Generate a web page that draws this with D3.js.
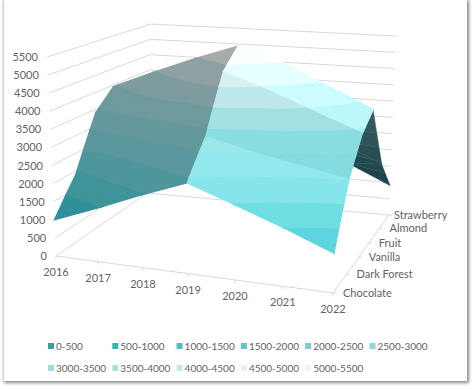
<!DOCTYPE html>
<html>
<head>
<meta charset="utf-8">
<script src="https://cdn.jsdelivr.net/npm/d3@7"></script>
<style>
html, body { margin: 0; padding: 0; background: #fff; }
#chart { position: absolute; left: 4px; top: 0; width: 463px; height: 381px; background: #fff; box-shadow: 1px 1px 3px 1px #8a8a8a; }
svg { position: absolute; left: 0; top: 0; }
text { font-family: Lato, sans-serif; font-size: 11px; fill: #636363; }
.legend text { font-size: 10px; }
</style>
</head>
<body>
<div id="chart"></div>
<script>
const years = ["2016", "2017", "2018", "2019", "2020", "2021", "2022"];
const flavours = ["Chocolate", "Dark Forest", "Vanilla", "Fruit", "Almond", "Strawberry"];
const valueTicks = [0, 500, 1000, 1500, 2000, 2500, 3000, 3500, 4000, 4500, 5000, 5500];

const chocolate = [1000, 1450, 1950, 2400, 1950, 1500, 1000];
const darkForest = [1900, 2400, 2850, 3300, 3000, 2750, 2500];
const vanilla = [3400, 3900, 4400, 4850, 4400, 3900, 3400];
const fruit = [3950, 4460, 4960, 5400, 5000, 4400, 3800];
const almond = [3000, 3300, 3600, 3900, 3200, 2500, 1900];
const strawberry = [2000, 2200, 2400, 2700, 2100, 1500, 900];
const rows = [chocolate, darkForest, vanilla, fruit, almond, strawberry];

const bandNames = ["0-500", "500-1000", "1000-1500", "1500-2000", "2000-2500", "2500-3000",
    "3000-3500", "3500-4000", "4000-4500", "4500-5000", "5000-5500"];
const legendColors = ["#3a9ea8", "#3aafb8", "#4dbcc6", "#66c2cc", "#7accd2", "#94d6d8",
    "#a0d8e0", "#b0e0e2", "#c6e8ea", "#dff2f2", "#ecf6f6"];

// band colours per lit side of the surface
const leftShades = ["#2a8a92", "#2a8a92", "#30909a", "#3f949a", "#4d969c", "#5a989e",
    "#64989c", "#6e9a9e", "#7e9c9e", "#8fa0a2", "#a6acac"];
const rightLow = ["#52d2dc", "#52d2dc", "#5dd5de", "#6fdfe4", "#85e5ea", "#92e8ec",
    "#9ae8ea", "#a4e4e6", "#bfeaec", "#d5eff0", "#e8f8f8"];
const rightMid = ["#52d2dc", "#52d2dc", "#5dd5de", "#6fdfe4", "#80dde2", "#84dbe0",
    "#8adde1", "#a2e1e3", "#bee8ea", "#d9f0f0", "#eef8f8"];
const rightTop = ["#a0f0f4", "#a0f0f4", "#a0f0f4", "#a0f0f4", "#a0f0f4", "#a0f0f4",
    "#a8f4f6", "#bcf8fa", "#ccfcff", "#e6ffff", "#fbffff"];
const backShades = ["#1c444c", "#1c444c", "#1c444c", "#22494f", "#294e54", "#2e5358",
    "#33575c", "#33575c", "#33575c", "#33575c", "#33575c"];

const width = 474, height = 389;
const svg = d3.select("#chart").append("svg")
    .attr("width", width).attr("height", height)
    .style("left", "-4px");

// box corners in the picture, named floor/top + front/back + left/right
const corners = {
    floorFrontLeft: [56, 256], floorFrontRight: [333, 293], floorBackLeft: [147, 193], floorBackRight: [389, 215],
    topFrontLeft: [47, 57], topFrontRight: [338, 75], topBackLeft: [150.5, 24], topBackRight: [396, 36]
};

// positions are squeezed towards the back, so the fractions are not even
const uScale = d3.scaleLinear().domain(d3.range(7)).range([0, .152, .314, .477, .646, .819, 1]);
const vScale = d3.scaleLinear().domain(d3.range(6)).range([0, .24, .46, .64, .83, 1]);
const zScale = d3.scaleLinear().domain([0, 5500]).range([0, 1]);

function project(col, row, value) {
    const u = uScale(col), v = vScale(row), w = zScale(value);
    const mix = (a, b, t) => [a[0] + (b[0] - a[0]) * t, a[1] + (b[1] - a[1]) * t];
    const floor = mix(mix(corners.floorFrontLeft, corners.floorFrontRight, u), mix(corners.floorBackLeft, corners.floorBackRight, u), v);
    const top = mix(mix(corners.topFrontLeft, corners.topFrontRight, u), mix(corners.topBackLeft, corners.topBackRight, u), v);
    return mix(floor, top, w);
}

const line = d3.line();
const lastCol = years.length - 1, lastRow = flavours.length - 1;

// walls
const grid = svg.append("g").attr("fill", "none").attr("stroke", "#dcd8d8").attr("stroke-width", 1);
valueTicks.forEach(t => {
    grid.append("path").attr("d", line([project(0, 0, t), project(0, lastRow, t), project(lastCol, lastRow, t)]));
});
// floor axes
grid.append("path").attr("d", line([project(lastCol, lastRow, 0), project(lastCol, 0, 0), project(0, 0, 0)]));
years.forEach((y, i) => {
    const p = project(i, 0, 0);
    grid.append("path").attr("d", line([p, [p[0], p[1] + 3]]));
});
flavours.forEach((f, i) => {
    const p = project(lastCol, i, 0);
    grid.append("path").attr("d", line([p, [p[0] + 3, p[1]]]));
});

// clip a polygon of [col,row,value] points to lo <= value <= hi
function clipBand(poly, lo, hi) {
    const clip = (pts, keep, limit) => {
        const out = [];
        pts.forEach((p, i) => {
            const q = pts[(i + 1) % pts.length];
            if (keep(p[2])) out.push(p);
            if (keep(p[2]) !== keep(q[2])) {
                const t = (limit - p[2]) / (q[2] - p[2]);
                out.push([p[0] + (q[0] - p[0]) * t, p[1] + (q[1] - p[1]) * t, limit]);
            }
        });
        return out;
    };
    const a = clip(poly, v => v >= lo, lo);
    return a.length ? clip(a, v => v <= hi, hi) : a;
}

function shadesFor(col, row) {
    const dCol = rows[row][col + 1] - rows[row][col];
    const dRow = rows[row + 1][col] - rows[row][col];
    if (dRow < 0) return backShades;
    if (dCol > 0) return leftShades;
    return row === 2 ? rightTop : row === 1 ? rightMid : rightLow;
}

// back rows first, outer columns before the fold at 2019
const surface = svg.append("g");
const colOrder = [0, 1, 2, 5, 4, 3];
d3.range(lastRow - 1, -1, -1).forEach(row => {
    colOrder.forEach(col => {
        // the far slope only shows past the last front column
        if (row >= 3 && col < lastCol - 1) return;
        const a = [col, row, rows[row][col]], b = [col + 1, row, rows[row][col + 1]];
        const c = [col + 1, row + 1, rows[row + 1][col + 1]], d = [col, row + 1, rows[row + 1][col]];
        const shades = shadesFor(col, row);
        [[d, c, b], [d, b, a]].forEach(tri => {
            bandNames.forEach((name, k) => {
                const piece = clipBand(tri, k * 500, (k + 1) * 500);
                if (piece.length < 3) return;
                surface.append("path")
                    .attr("d", line(piece.map(p => project(p[0], p[1], p[2]))) + "Z")
                    .attr("fill", shades[k])
                    .attr("stroke", shades[k])
                    .attr("stroke-width", shades === backShades ? .4 : 1.2);
            });
        });
    });
});

// tick labels
valueTicks.forEach(t => {
    const p = project(0, 0, t);
    svg.append("text").attr("x", p[0] - 9).attr("y", p[1] + 4).attr("text-anchor", "end").text(t);
});
years.forEach((y, i) => {
    const p = project(i, 0, 0);
    svg.append("text").attr("x", p[0]).attr("y", p[1] + 20).attr("text-anchor", "middle").text(y);
});
flavours.forEach((f, i) => {
    const p = project(lastCol, i, 0);
    svg.append("text").attr("x", p[0] + (i === lastRow ? 5 : 10)).attr("y", p[1] + 4).text(f);
});

// legend, 6 entries to a row
const legendX = d3.scalePoint().domain(d3.range(6)).range([48, 369.5]);
const legendY = d3.scalePoint().domain([0, 1]).range([343, 365]);
const legend = svg.append("g").attr("class", "legend");
bandNames.forEach((name, i) => {
    const g = legend.append("g").attr("transform", `translate(${legendX(i % 6)},${legendY(Math.floor(i / 6))})`);
    g.append("rect").attr("width", 6).attr("height", 6).attr("fill", legendColors[i]);
    g.append("text").attr("x", 8).attr("y", 7).text(name);
});
</script>
</body>
</html>
